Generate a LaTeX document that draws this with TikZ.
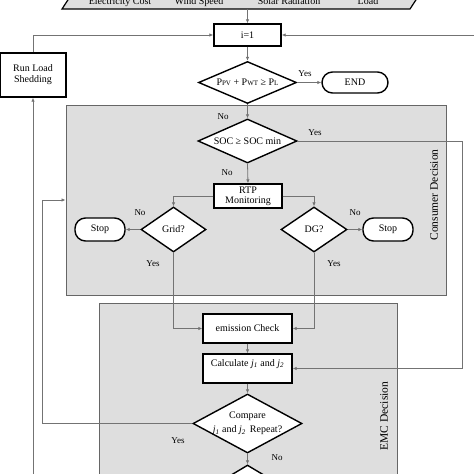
\documentclass[tikz,border=0pt]{standalone}
\usepackage{fontspec}
\setmainfont{Liberation Serif}
\usepackage{tikz}
\usetikzlibrary{arrows.meta, positioning, calc, shapes.geometric}

\tikzset{
  procbox/.style={draw, line width=1.4pt, fill=white, inner sep=1pt, align=center, font=\fontsize{10}{11}\selectfont},
  decide/.style={diamond, draw, line width=1.4pt, fill=white, inner sep=0pt, align=center, font=\fontsize{10}{11}\selectfont},
  termin/.style={draw, line width=1.4pt, fill=white, rounded corners=10.5pt, font=\fontsize{10}{11}\selectfont},
  stage/.style={draw=black!60, line width=0.9pt, fill=black!13},
  flow/.style={draw=black!55, line width=0.8pt, -{Latex[length=4pt,width=3.5pt]}},
  tag/.style={font=\fontsize{9}{10}\selectfont}
}

\begin{document}
\begin{tikzpicture}[x=1pt, y=-1pt]
  \useasboundingbox (0,0) rectangle (474,474);
  \clip (0,0) rectangle (474,474);

  % input data
  \draw[line width=1.2pt, fill=black!13] (62,9) -- (410,9) -- (425,-14) -- (77,-14) -- cycle;
  \node[anchor=base, font=\fontsize{10}{11}\selectfont] (incost)  at (120,4) {Electricity Cost};
  \node[anchor=base, font=\fontsize{10}{11}\selectfont] (inwind)  at (199,4) {Wind Speed};
  \node[anchor=base, font=\fontsize{10}{11}\selectfont] (insolar) at (289,4) {Solar Radiation};
  \node[anchor=base, font=\fontsize{10}{11}\selectfont] (inload)  at (368,4) {Load};
  \coordinate (data) at (247.5,9);

  % decision stages
  \node[stage, minimum width=380pt, minimum height=190pt] (cons) at (256,200) {};
  \node[rotate=90, font=\fontsize{11.5}{12}\selectfont] (conslabel) at (434,195) {Consumer Decision};
  \node[stage, minimum width=298pt, minimum height=190pt] (emc) at (248,398) {};
  \node[rotate=90, font=\fontsize{11.5}{12}\selectfont] (emclabel) at (384,416) {EMC Decision};

  % main column
  \node[procbox, minimum width=67pt, minimum height=22pt] (init) at (247.5,35) {i=1};
  \node[decide, aspect=2.33, minimum width=98pt, minimum height=42pt] (dpow) at (247.5,82.5)
    {P{\fontsize{7}{7}\selectfont PV} + P{\fontsize{7}{7}\selectfont WT} ≥ P{\fontsize{7}{7}\selectfont L}};
  \node[termin, minimum width=66pt, minimum height=21pt] (endn) at (355,82.5) {END};
  \node[procbox, minimum width=66pt, minimum height=44pt] (shed) at (33,75) {Run Load\\Shedding};

  \node[decide, aspect=2.25, minimum width=99pt, minimum height=44pt] (soc) at (247.5,141) {SOC ≥ SOC min};
  \node[procbox, minimum width=68pt, minimum height=24pt, inner sep=0pt,
        font=\fontsize{10}{10}\selectfont] (rtp) at (248,196) {RTP\\Monitoring};
  \node[decide, aspect=1.44, minimum width=65pt, minimum height=45pt] (grid) at (173.5,229.5) {Grid?};
  \node[decide, aspect=1.44, minimum width=66pt, minimum height=45pt] (dg) at (314,229.5) {DG?};
  \node[termin, minimum width=50pt, minimum height=23pt] (stopl) at (100,229.5) {Stop};
  \node[termin, minimum width=50pt, minimum height=23pt] (stopr) at (388,229.5) {Stop};

  \node[procbox, minimum width=89pt, minimum height=29pt] (emis) at (247.5,328.5) {emission Check};
  \node[procbox, minimum width=89pt, minimum height=29pt] (calc) at (247.5,368.5)
    {Calculate \textit{j\textsubscript{1}} and \textit{j\textsubscript{2}}\\ ~};
  \node[decide, aspect=1.85, inner xsep=-3pt, minimum width=109pt, minimum height=59pt] (comp) at (247.5,423.5)
    {Compare\\[3pt]\textit{j\textsubscript{1}} and \textit{j\textsubscript{2}}\, Repeat?};
  \node[decide, aspect=1.67, minimum width=100pt, minimum height=60pt] (nextd) at (247.5,495) {};

  % loop points
  \coordinate (socr) at (462,141);
  \coordinate (compl) at (42,423.5);
  \coordinate (shedin) at (33,474);
  \coordinate (initin) at (474,35);

  % connectors
  \draw[flow] (data) -- (init.north);
  \draw[flow] (init.south) -- (dpow.north);
  \draw[flow] (dpow.east) -- (endn.west);
  \draw[flow] (dpow.south) -- (soc.north);
  \draw[flow] (soc.south) -- (rtp.north);
  \draw[flow] (soc.east) -- (socr) |- (calc.east);
  \draw[flow] (rtp.west) -| (grid.north);
  \draw[flow] (rtp.east) -| (dg.north);
  \draw[flow] (grid.west) -- (stopl.east);
  \draw[flow] (dg.east) -- (stopr.west);
  \draw[flow] (grid.south) |- (emis.west);
  \draw[flow] (dg.south) |- (emis.east);
  \draw[flow] (emis.south) -- (calc.north);
  \draw[flow] (calc.south) -- (comp.north);
  \draw[flow] (comp.south) -- (nextd.north);
  \draw[flow] (comp.west) -- (compl) |- (cons.west);
  \draw[flow] (shedin) -- (shed.south);
  \draw[flow] (shed.north) |- (init.west);
  \draw[flow] (initin) -- (init.east);

  % branch labels
  \node[tag] (yespow)  at (305,74)  {Yes};
  \node[tag] (nopow)   at (223,117) {No};
  \node[tag] (yessoc)  at (315,133) {Yes};
  \node[tag] (nosoc)   at (227,173) {No};
  \node[tag] (nogrid)  at (140,213) {No};
  \node[tag] (nodg)    at (355,213) {No};
  \node[tag] (yesgrid) at (153,264) {Yes};
  \node[tag] (yesdg)   at (334,264) {Yes};
  \node[tag] (yescomp) at (178,441) {Yes};
  \node[tag] (nocomp)  at (277,458) {No};
\end{tikzpicture}
\end{document}
